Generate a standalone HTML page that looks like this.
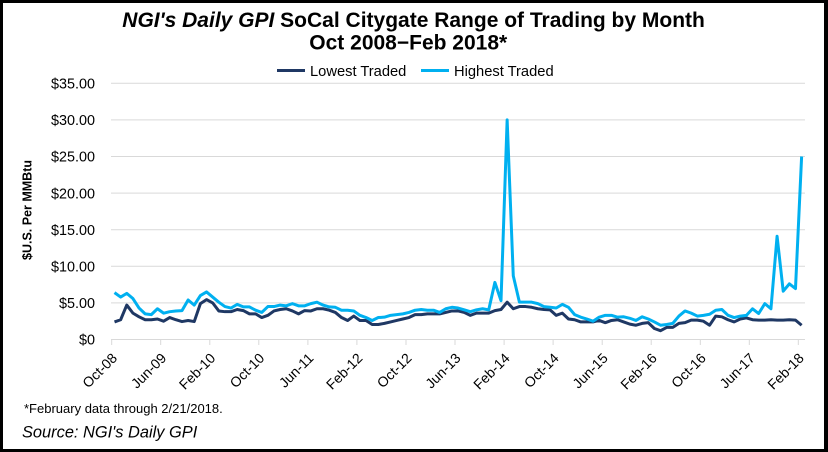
<!DOCTYPE html>
<html>
<head>
<meta charset="utf-8">
<style>
html,body{margin:0;padding:0;background:#fff;}
body{width:828px;height:452px;overflow:hidden;}
svg{display:block;font-family:"Liberation Sans",Arial,sans-serif;}
</style>
</head>
<body>
<svg width="828" height="452" viewBox="0 0 828 452" xmlns="http://www.w3.org/2000/svg">
  <rect x="0" y="0" width="828" height="452" fill="#fff"/>
  <!-- border -->
  <rect x="0" y="0" width="828" height="3" fill="#000"/>
  <rect x="0" y="449" width="828" height="3" fill="#000"/>
  <rect x="0" y="0" width="3" height="452" fill="#000"/>
  <rect x="824" y="0" width="4" height="452" fill="#000"/>

  <!-- title -->
  <text x="122.3" y="27" font-size="21" font-weight="bold" fill="#000"><tspan font-style="italic">NGI's Daily GPI</tspan> SoCal Citygate Range of Trading by Month</text>
  <text x="309.3" y="49.5" font-size="21" font-weight="bold" fill="#000">Oct 2008−Feb 2018*</text>

  <!-- legend -->
  <line x1="277" y1="70.5" x2="305" y2="70.5" stroke="#1F3864" stroke-width="3"/>
  <text x="310" y="76" font-size="14.7" fill="#000">Lowest Traded</text>
  <line x1="421" y1="70.5" x2="449" y2="70.5" stroke="#00B0F0" stroke-width="3"/>
  <text x="454" y="76" font-size="14.7" fill="#000">Highest Traded</text>

  <!-- gridlines -->
  <g stroke="#d9d9d9" stroke-width="1">
    <line x1="111" y1="83.3" x2="805" y2="83.3"/>
    <line x1="111" y1="119.9" x2="805" y2="119.9"/>
    <line x1="111" y1="156.5" x2="805" y2="156.5"/>
    <line x1="111" y1="193.1" x2="805" y2="193.1"/>
    <line x1="111" y1="229.7" x2="805" y2="229.7"/>
    <line x1="111" y1="266.3" x2="805" y2="266.3"/>
    <line x1="111" y1="302.9" x2="805" y2="302.9"/>
    <line x1="111" y1="339.5" x2="805" y2="339.5"/>
    <!-- x ticks -->
    <line x1="111.7" y1="339.5" x2="111.7" y2="345"/>
    <line x1="160.7" y1="339.5" x2="160.7" y2="345"/>
    <line x1="209.8" y1="339.5" x2="209.8" y2="345"/>
    <line x1="258.8" y1="339.5" x2="258.8" y2="345"/>
    <line x1="307.9" y1="339.5" x2="307.9" y2="345"/>
    <line x1="356.9" y1="339.5" x2="356.9" y2="345"/>
    <line x1="406.0" y1="339.5" x2="406.0" y2="345"/>
    <line x1="455.0" y1="339.5" x2="455.0" y2="345"/>
    <line x1="504.1" y1="339.5" x2="504.1" y2="345"/>
    <line x1="553.1" y1="339.5" x2="553.1" y2="345"/>
    <line x1="602.2" y1="339.5" x2="602.2" y2="345"/>
    <line x1="651.2" y1="339.5" x2="651.2" y2="345"/>
    <line x1="700.3" y1="339.5" x2="700.3" y2="345"/>
    <line x1="749.3" y1="339.5" x2="749.3" y2="345"/>
    <line x1="798.3" y1="339.5" x2="798.3" y2="345"/>
  </g>

  <!-- y labels -->
  <g font-size="14.4" fill="#000" text-anchor="end">
    <text x="95" y="88.5">$35.00</text>
    <text x="95" y="125.1">$30.00</text>
    <text x="95" y="161.7">$25.00</text>
    <text x="95" y="198.3">$20.00</text>
    <text x="95" y="234.9">$15.00</text>
    <text x="95" y="271.5">$10.00</text>
    <text x="95" y="308.1">$5.00</text>
    <text x="95" y="344.7">$0</text>
  </g>

  <!-- y title -->
  <text transform="translate(31.5,210) rotate(-90)" text-anchor="middle" font-size="12.5" font-weight="bold" fill="#000">$U.S. Per MMBtu</text>

  <!-- x labels -->
  <g font-size="14" fill="#000" text-anchor="end">
    <text transform="translate(118,359) rotate(-45)">Oct-08</text>
    <text transform="translate(167.2,359) rotate(-45)">Jun-09</text>
    <text transform="translate(216.3,359) rotate(-45)">Feb-10</text>
    <text transform="translate(265.3,359) rotate(-45)">Oct-10</text>
    <text transform="translate(314.4,359) rotate(-45)">Jun-11</text>
    <text transform="translate(363.4,359) rotate(-45)">Feb-12</text>
    <text transform="translate(412.5,359) rotate(-45)">Oct-12</text>
    <text transform="translate(461.5,359) rotate(-45)">Jun-13</text>
    <text transform="translate(510.6,359) rotate(-45)">Feb-14</text>
    <text transform="translate(559.6,359) rotate(-45)">Oct-14</text>
    <text transform="translate(608.7,359) rotate(-45)">Jun-15</text>
    <text transform="translate(657.7,359) rotate(-45)">Feb-16</text>
    <text transform="translate(706.8,359) rotate(-45)">Oct-16</text>
    <text transform="translate(755.8,359) rotate(-45)">Jun-17</text>
    <text transform="translate(804.8,359) rotate(-45)">Feb-18</text>
  </g>

  <!-- series -->
  <g transform="translate(114.5,339.5) scale(6.135,-7.32)">
    <polyline fill="none" stroke="#1F3864" stroke-width="3" vector-effect="non-scaling-stroke" stroke-linejoin="round" points="
0,2.4 1,2.7 2,4.7 3,3.6 4,3.1 5,2.7 6,2.7 7,2.8 8,2.5 9,3.0 10,2.7 11,2.45 12,2.6 13,2.45 14,4.9 15,5.45 16,5.0 17,3.9 18,3.8 19,3.8
20,4.1 21,3.95 22,3.5 23,3.5 24,3.0 25,3.3 26,3.9 27,4.1 28,4.2 29,3.9 30,3.5 31,3.95 32,3.9 33,4.2 34,4.2 35,4.0 36,3.7 37,3.0 38,2.6 39,3.2
40,2.6 41,2.6 42,2.05 43,2.05 44,2.2 45,2.4 46,2.6 47,2.8 48,3.0 49,3.4 50,3.4 51,3.5 52,3.5 53,3.5 54,3.7 55,3.9 56,3.9 57,3.7 58,3.3 59,3.6
60,3.6 61,3.6 62,3.95 63,4.1 64,5.1 65,4.2 66,4.5 67,4.5 68,4.4 69,4.2 70,4.1 71,4.05 72,3.3 73,3.6 74,2.8 75,2.7 76,2.4 77,2.4 78,2.4 79,2.6
80,2.3 81,2.6 82,2.7 83,2.4 84,2.1 85,1.95 86,2.2 87,2.3 88,1.5 89,1.2 90,1.65 91,1.65 92,2.2 93,2.3 94,2.65 95,2.65 96,2.5 97,1.95 98,3.2 99,3.1
100,2.7 101,2.4 102,2.8 103,2.95 104,2.7 105,2.65 106,2.65 107,2.7 108,2.65 109,2.65 110,2.7 111,2.65 112,1.95"/>
    <polyline fill="none" stroke="#00B0F0" stroke-width="3" vector-effect="non-scaling-stroke" stroke-linejoin="round" points="
0,6.4 1,5.8 2,6.3 3,5.6 4,4.3 5,3.5 6,3.4 7,4.2 8,3.6 9,3.8 10,3.9 11,3.95 12,5.4 13,4.7 14,6.0 15,6.5 16,5.8 17,5.1 18,4.5 19,4.3
20,4.8 21,4.45 22,4.45 23,4.0 24,3.7 25,4.5 26,4.5 27,4.7 28,4.6 29,4.9 30,4.6 31,4.6 32,4.9 33,5.1 34,4.7 35,4.45 36,4.4 37,4.0 38,4.0 39,3.9
40,3.3 41,3.0 42,2.6 43,3.0 44,3.05 45,3.3 46,3.4 47,3.5 48,3.7 49,4.0 50,4.1 51,4.0 52,4.0 53,3.7 54,4.2 55,4.4 56,4.3 57,4.05 58,3.8 59,4.05
60,4.2 61,4.05 62,7.8 63,5.3 64,30.0 65,8.7 66,5.1 67,5.1 68,5.1 69,4.9 70,4.5 71,4.4 72,4.3 73,4.8 74,4.4 75,3.4 76,3.05 77,2.8 78,2.5 79,3.05
80,3.3 81,3.3 82,3.05 83,3.1 84,2.9 85,2.6 86,3.1 87,2.8 88,2.4 89,1.95 90,2.05 91,2.2 92,3.2 93,3.9 94,3.6 95,3.2 96,3.3 97,3.45 98,4.0 99,4.1
100,3.3 101,3.0 102,3.2 103,3.3 104,4.2 105,3.55 106,4.9 107,4.2 108,14.1 109,6.6 110,7.6 111,6.95 112,25.0"/>
  </g>

  <!-- footnotes -->
  <text x="24" y="413" font-size="13" fill="#000">*February data through 2/21/2018.</text>
  <text x="22" y="437.5" font-size="16.4" font-style="italic" fill="#000">Source: NGI's Daily GPI</text>
</svg>
</body>
</html>
